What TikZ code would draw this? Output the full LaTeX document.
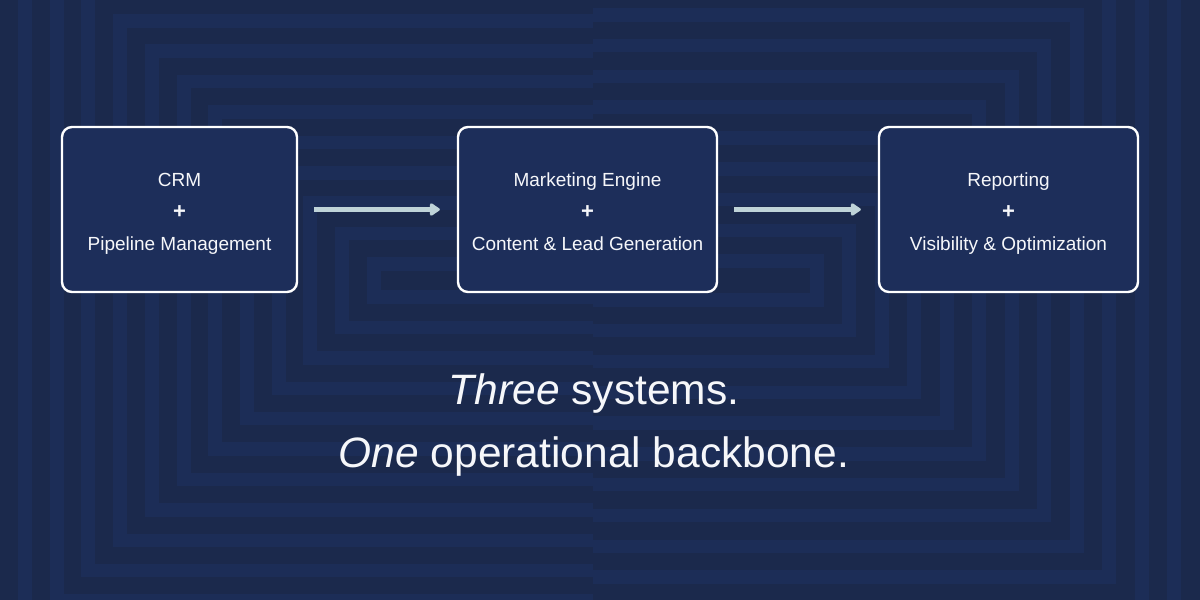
\documentclass[tikz,border=0pt]{standalone}
\usepackage{fontspec}
\setmainfont{Liberation Sans}
\usetikzlibrary{arrows.meta}
\definecolor{bgdark}{RGB}{27,41,76}
\definecolor{bglight}{RGB}{28,45,87}
\definecolor{boxfill}{RGB}{29,46,90}
\definecolor{arrowc}{RGB}{191,211,216}
\definecolor{txt}{RGB}{246,247,250}
\newcommand{\tstrut}{\rule{0pt}{22pt}}
\newcommand{\bstrut}{\rule[-5pt]{0pt}{5pt}}
\newcommand{\plussign}{{\fontsize{22}{32}\selectfont\bfseries +}}
\tikzset{
  sysbox/.style={draw=white, line width=2.4pt, fill=boxfill, rounded corners=10pt,
    minimum height=165pt, inner sep=0pt, align=center, text=txt,
    font=\fontsize{19}{32}\selectfont},
  conn/.style={draw=arrowc, line width=4.3pt, -{Triangle[length=11pt,width=14pt,round]},
    shorten <=16pt, shorten >=17pt},
  tagline/.style={text=txt, font=\fontsize{42.5}{50}\selectfont, anchor=base, inner sep=0pt}
}
\begin{document}
\begin{tikzpicture}[x=1pt,y=-1pt]
\useasboundingbox (0,0) rectangle (1200,600);
\begin{scope}
\clip (0,0) rectangle (1200,600);
\fill[bgdark] (0,0) rectangle (1200,600);
\foreach \k in {0,...,11}{
  \pgfmathsetmacro{\xl}{18+31.7*\k}
  \pgfmathsetmacro{\hl}{357.7-30.4*\k}
  \pgfmathsetmacro{\xr}{1181-32.5*\k}
  \pgfmathsetmacro{\hr}{364.9-30.8*\k}
  \fill[bglight] ({\xl},{280.5-\hl}) rectangle (593,{280.5+\hl});
  \fill[bgdark] ({\xl+14},{280.5-\hl+13.5}) rectangle (593,{280.5+\hl-13.5});
  \fill[bglight] (593,{280.5-\hr}) rectangle ({\xr},{280.5+\hr});
  \fill[bgdark] (593,{280.5-\hr+13.5}) rectangle ({\xr-14},{280.5+\hr-13.5});
}
\end{scope}
\node[sysbox, minimum width=235pt] (b1) at (179.5,209.5) {\tstrut CRM\\\plussign\\Pipeline Management\bstrut};
\node[sysbox, minimum width=259pt] (b2) at (587.5,209.5) {\tstrut Marketing Engine\\\plussign\\Content \& Lead Generation\bstrut};
\node[sysbox, minimum width=259pt] (b3) at (1008.5,209.5) {\tstrut Reporting\\\plussign\\Visibility \& Optimization\bstrut};
\draw[conn] (b1) -- (b2);
\draw[conn] (b2) -- (b3);
\node[tagline] (t1) at (594,404) {\textit{Three} systems.};
\node[tagline] (t2) at (594,467) {\textit{One} operational backbone.};
\end{tikzpicture}
\end{document}
